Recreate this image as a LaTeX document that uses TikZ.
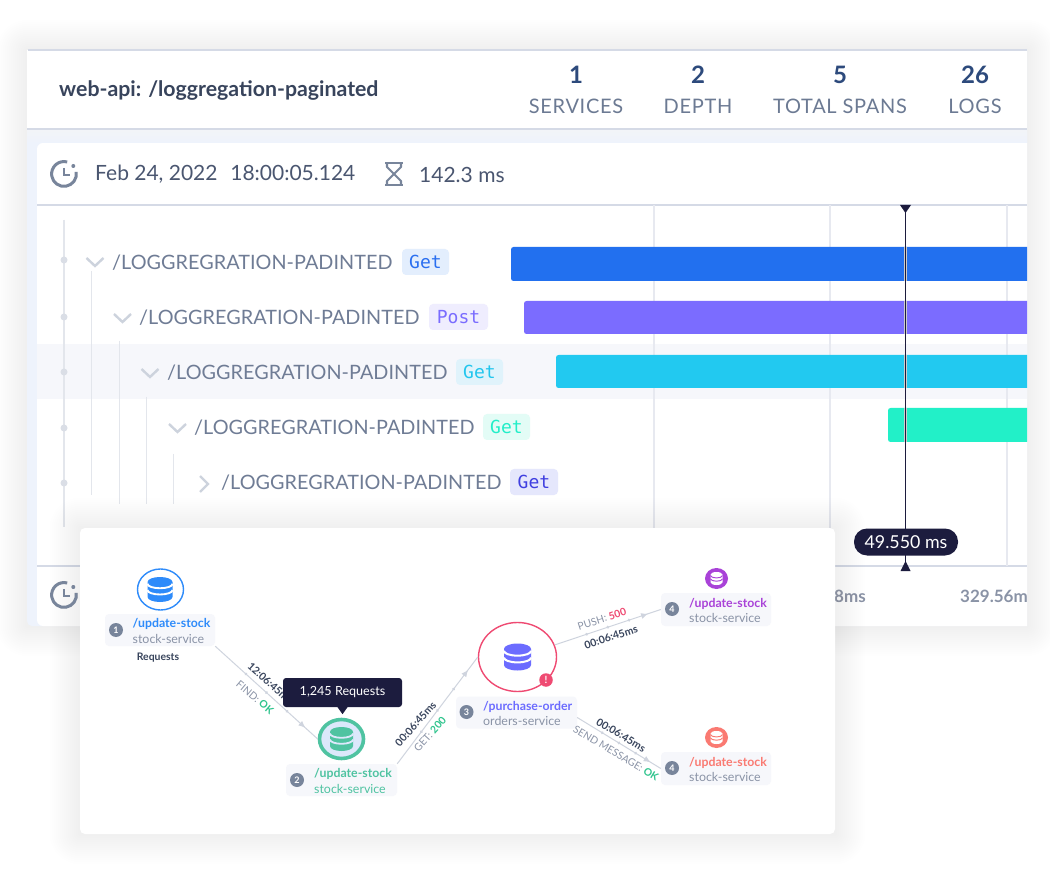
\documentclass[tikz,border=0pt]{standalone}
\usepackage{fontspec}
\setmainfont{Lato}
\newfontfamily\monof{DejaVu Sans Mono}
\usetikzlibrary{shapes.geometric,arrows.meta,decorations.markings}
\definecolor{ink}{HTML}{1C1C3E}
\definecolor{titlec}{HTML}{38445C}
\definecolor{datec}{HTML}{4A5670}
\definecolor{numc}{HTML}{2D4A7C}
\definecolor{statc}{HTML}{6C7A93}
\definecolor{rowc}{HTML}{6F7C95}
\definecolor{linec}{HTML}{D5DAE6}
\definecolor{gridc}{HTML}{E7E9F0}
\definecolor{treec}{HTML}{E3E6EC}
\definecolor{dotc}{HTML}{DADEE6}
\definecolor{chevc}{HTML}{CDD3DD}
\definecolor{edgec}{HTML}{CFD4DE}
\definecolor{iconc}{HTML}{78859B}
\definecolor{paleblue}{HTML}{EEF3FC}
\definecolor{boxc}{HTML}{F6F7FB}
\definecolor{svc}{HTML}{8A93A6}
\definecolor{blueA}{HTML}{2E8BFA}
\definecolor{tealA}{HTML}{4FC3A1}
\definecolor{violetA}{HTML}{6C6CFF}
\definecolor{purpA}{HTML}{A942D8}
\definecolor{salmA}{HTML}{FA7A72}
\definecolor{pinkA}{HTML}{EF4A72}
\definecolor{okc}{HTML}{2FC48D}
\definecolor{shadowc}{HTML}{8A8F9E}
\definecolor{palec}{HTML}{DCE8FB}
\definecolor{barA}{HTML}{2270EF}
\definecolor{barB}{HTML}{7B6CFF}
\definecolor{barC}{HTML}{22C9F0}
\definecolor{barD}{HTML}{22F0C8}
\newcommand\fsz[1]{\fontsize{#1}{#1}\selectfont}
\newcommand\dbicon[5]{% x y halfw halfh colour
  \begin{scope}[shift={(#1,#2)}]
    \fill[#5] (-#3,-#4*0.6) arc[start angle=180,end angle=360,x radius=#3,y radius=#4*0.4]
      -- (#3,#4*0.6) arc[start angle=0,end angle=180,x radius=#3,y radius=#4*0.4] -- cycle;
  \end{scope}}
\newcommand\dbgaps[5]{% x y halfw halfh gap colour
  \begin{scope}[shift={(#1,#2)}]
    \draw[#5,line width=#4*0.15] (-#3,-#4*0.45) arc[start angle=180,end angle=0,x radius=#3,y radius=#4*0.35];
    \draw[#5,line width=#4*0.15] (-#3,#4*0.05) arc[start angle=180,end angle=0,x radius=#3,y radius=#4*0.35];
  \end{scope}}
\newcommand\softshadow[6]{% x1 y1 x2 y2 spread opacity
  \foreach \s in {2,4,...,#5}{
    \fill[shadowc,opacity=#6,rounded corners=\s pt] (#1-\s,#2-\s) rectangle (#3+\s,#4+\s);}}
\newcommand\clockicon[2]{%
  \begin{scope}[shift={(#1,#2)}]
    \draw[iconc,line width=3pt] (12.2,-2.2) arc[start angle=-10,end angle=285,radius=12.4];
    \fill[iconc] (9.3,-8) circle[radius=2];
    \draw[iconc,line width=2.8pt] (0,-6) -- (0,1) -- (6,1);
  \end{scope}}
\tikzset{
  x=1pt,y=-1pt,
  dot/.style={circle,fill=dotc,minimum size=7pt,inner sep=0pt},
  treeline/.style={draw=treec,line width=1pt},
  chevron/.style={draw=chevc,line width=2.4pt},
  gridline/.style={draw=gridc,line width=1.4pt},
  rowtext/.style={text=rowc,anchor=west,inner sep=0pt,font=\fsz{19.8}\addfontfeature{LetterSpace=0.2}},
  tagbox/.style={rounded corners=4pt,minimum height=26pt,inner sep=0pt,font=\monof\fsz{18}},
  stattop/.style={text=numc,font=\fsz{24}\bfseries,inner sep=0pt},
  statlab/.style={text=statc,font=\fsz{20}\addfontfeature{LetterSpace=3.5},inner sep=0pt},
  labelbox/.style={fill=boxc,rounded corners=4pt,minimum height=32pt,inner sep=0pt},
  numbadge/.style={circle,fill=iconc,minimum size=14pt,inner sep=0pt,text=white,font=\fsz{9}\bfseries},
  opname/.style={anchor=west,inner sep=0pt,font=\fsz{12.3}\bfseries},
  svcname/.style={anchor=west,inner sep=0pt,text=svc,font=\fsz{12.4}},
  edgetime/.style={inner sep=0pt,text=titlec,font=\fsz{10.5}\bfseries},
  edgeverb/.style={inner sep=0pt,text=svc,font=\fsz{10.3}},
  flowedge/.style={draw=edgec,line width=1pt,postaction={decorate},decoration={markings,
    mark=at position 0.3 with {\fill[edgec] circle[radius=1.6];},
    mark=at position 0.5 with {\fill[edgec] circle[radius=1.6];},
    mark=at position 0.7 with {\fill[edgec] circle[radius=1.6];},
    mark=at position 0.88 with {\arrow{Latex[length=7pt,width=6pt]}}}},
}
\begin{document}
\begin{tikzpicture}
\useasboundingbox (0,0) rectangle (1050,890);
\fill[white] (0,0) rectangle (1050,890);
% main panel shadow
\softshadow{27}{50}{1027}{626}{30}{0.003}
% main panel
\fill[paleblue] (1027,50) [rounded corners=5pt] -- (27,50) -- (27,626) [sharp corners] -- (1027,626) -- cycle;
\fill[white] (1027,143) [rounded corners=6pt] -- (37,143) -- (37,626) [sharp corners] -- (1027,626) -- cycle;
\shade[top color=white!70!linec,bottom color=paleblue] (27,129) rectangle (1027,143);
\fill[white] (27,50) rectangle (1027,129);
\draw[linec,line width=2pt] (28,50.5) -- (1027,50.5);
\draw[linec,line width=1.2pt] (27,129) -- (1027,129);
% header
\node[anchor=west,inner sep=0pt,text=titlec,font=\fsz{21.3}\bfseries] (title) at (59,90.5) {web-api: /loggregation-paginated};
\node[stattop] (s1) at (576,75) {1};
\node[statlab] (l1) at (576,106.5) {SERVICES};
\node[stattop] (s2) at (698,75) {2};
\node[statlab] (l2) at (698,106.5) {DEPTH};
\node[stattop] (s3) at (840,75) {5};
\node[statlab] (l3) at (840,106.5) {TOTAL SPANS};
\node[stattop] (s4) at (975,75) {26};
\node[statlab] (l4) at (975,106.5) {LOGS};
% date row
\clockicon{64}{174}
\node[anchor=west,inner sep=0pt,text=datec,font=\fsz{21}] (date) at (95,174.5) {Feb 24, 2022\hspace{0.35em} 18:00:05.124};
\draw[iconc,line width=2.3pt,line join=round] (385,163) -- (403,163) (385,185) -- (403,185);
\draw[iconc,line width=2.1pt,line join=round] (387,163) -- (387,167) -- (401,181) -- (401,185) (401,163) -- (401,167) -- (387,181) -- (387,185);
\node[anchor=west,inner sep=0pt,text=datec,font=\fsz{21}] (dur) at (419,174.5) {142.3 ms};
\draw[linec,line width=1.2pt] (37,205) -- (1027,205);
\draw[linec,line width=1.2pt] (37,566) -- (1027,566);
% highlighted row
\fill[boxc] (37,344) rectangle (1027,399);
% grid
\draw[gridline] (654,205) -- (654,566);
\draw[gridline] (830,205) -- (830,566);
\draw[gridline] (1007,205) -- (1007,566);
% tree
\draw[treec,line width=1.6pt] (64,220) -- (64,527);
\foreach \yy in {260,317,372,428,483}{\node[dot] at (64,\yy) {};}
\draw[treeline] (91,271) -- (91,495);
\draw[treeline] (119,341) -- (119,504);
\draw[treeline] (146.5,397) -- (146.5,504);
\draw[treeline] (173.5,454) -- (173.5,504);
\draw[chevron] (86.5,258) -- (95,266) -- (103.5,258);
\draw[chevron] (114,314) -- (122.5,322) -- (131,314);
\draw[chevron] (141.5,369) -- (150,377) -- (158.5,369);
\draw[chevron] (169,424) -- (177.5,432) -- (186,424);
\draw[chevron] (200,476) -- (208,484) -- (200,492);
% rows
\node[rowtext] (r1) at (112,262.5) {/LOGGREGRATION-PADINTED};
\node[rowtext] (r2) at (139,317.5) {/LOGGREGRATION-PADINTED};
\node[rowtext] (r3) at (167,372.5) {/LOGGREGRATION-PADINTED};
\node[rowtext] (r4) at (194,427.5) {/LOGGREGRATION-PADINTED};
\node[rowtext] (r5) at (221,482.5) {/LOGGREGRATION-PADINTED};
\definecolor{tagA}{HTML}{2A6FF0}\definecolor{tagB}{HTML}{7A6CFF}\definecolor{tagC}{HTML}{22C6EE}\definecolor{tagD}{HTML}{22EEC8}\definecolor{tagE}{HTML}{3F3FE0}
\definecolor{tagfA}{HTML}{E3EEFD}\definecolor{tagfB}{HTML}{EFEDFE}\definecolor{tagfC}{HTML}{E0F3FB}\definecolor{tagfD}{HTML}{E3FCF6}\definecolor{tagfE}{HTML}{E5E7FC}
\node[tagbox,fill=tagfA,text=tagA,minimum width=47pt] (t1) at (425.5,262) {Get};
\node[tagbox,fill=tagfB,text=tagB,minimum width=59pt] (t2) at (458.5,317) {Post};
\node[tagbox,fill=tagfC,text=tagC,minimum width=47pt] (t3) at (479.5,372) {Get};
\node[tagbox,fill=tagfD,text=tagD,minimum width=47pt] (t4) at (506.5,427) {Get};
\node[tagbox,fill=tagfE,text=tagE,minimum width=48pt] (t5) at (534,482) {Get};
% bars
\fill[barA] (1027,247) [rounded corners=2.5pt] -- (511,247) -- (511,281) [sharp corners] -- (1027,281) -- cycle;
\fill[barB] (1027,301) [rounded corners=2.5pt] -- (524,301) -- (524,334) [sharp corners] -- (1027,334) -- cycle;
\fill[barC] (1027,355) [rounded corners=2.5pt] -- (556,355) -- (556,388) [sharp corners] -- (1027,388) -- cycle;
\fill[barD] (1027,408) [rounded corners=2.5pt] -- (888,408) -- (888,442) [sharp corners] -- (1027,442) -- cycle;
% time marker
\coordinate (mtop) at (905.5,205);
\coordinate (mbot) at (905.5,571);
\foreach \ya/\yb in {247/281,301/334,355/388,408/442}{\draw[white!60!gray,line width=3.4pt] (905.5,\ya) -- (905.5,\yb);}
\draw[ink,line width=1.7pt] (mtop) -- (mbot);
\fill[ink] (900,205) -- (911,205) -- (905.5,213) -- cycle;
\fill[ink] (900.5,571) -- (910.5,571) -- (905.5,561) -- cycle;
\node[fill=ink,text=white,rounded corners=13pt,minimum width=104pt,minimum height=27pt,inner sep=0pt,font=\fsz{17.8}] (pill) at (906,542) {49.550 ms};
% axis row
\clockicon{64}{595}
\begin{scope}
\clip (37,570) rectangle (1027,626);
\node[anchor=east,inner sep=0pt,text=svc,font=\fsz{17}\bfseries] (ax1) at (866,596) {8ms};
\node[anchor=west,inner sep=0pt,text=svc,font=\fsz{17}\bfseries] (ax2) at (960,596) {329.56ms};
\end{scope}
% lower card
\softshadow{80}{528}{835}{834}{30}{0.006}
\fill[white,rounded corners=5pt] (80,528) rectangle (835,834);
% label boxes
\node[labelbox,minimum width=110pt] (n1) at (160,630) {};
\node[labelbox,minimum width=111pt] (n2) at (341.5,780) {};
\node[labelbox,minimum width=121pt] (n3) at (516.5,712.5) {};
\node[labelbox,minimum width=110pt,minimum height=33pt] (n4a) at (716,609.5) {};
\node[labelbox,minimum width=110pt,minimum height=33pt] (n4b) at (716,768.5) {};
\node[numbadge] (b1) at (116,630) {1};
\node[numbadge] (b2) at (297,780) {2};
\node[numbadge] (b3) at (466.5,712) {3};
\node[numbadge] (b4a) at (672,609) {4};
\node[numbadge] (b4b) at (672,768) {4};
\node[opname,text=blueA] (o1) at (132.5,624) {/update-stock};
\node[svcname] (v1) at (132.5,638.5) {stock-service};
\node[opname,text=tealA] (o2) at (314,774) {/update-stock};
\node[svcname,text=tealA] (v2) at (314,788.5) {stock-service};
\node[opname,text=violetA] (o3) at (483,706.5) {/purchase-order};
\node[svcname] (v3) at (483,721) {orders-service};
\node[opname,text=purpA] (o4) at (689,603.5) {/update-stock};
\node[svcname] (v4) at (689,618) {stock-service};
\node[opname,text=salmA] (o5) at (689,762.5) {/update-stock};
\node[svcname] (v5) at (689,777) {stock-service};
\node[inner sep=0pt,text=titlec,font=\fsz{10.4}\bfseries] (req) at (158,658) {Requests};
% circles
\node[ellipse,draw=blueA,line width=1.4pt,minimum width=46pt,minimum height=41pt,inner sep=0pt] (c1) at (160.5,589.5) {};
\node[ellipse,draw=tealA,fill=palec,line width=3.6pt,minimum width=44pt,minimum height=39pt,inner sep=0pt] (c2) at (341.5,739) {};
\node[ellipse,draw=pinkA,line width=1.4pt,minimum width=78pt,minimum height=69pt,inner sep=0pt] (c3) at (517.5,657) {};
\node[ellipse,fill=purpA,minimum width=23pt,minimum height=21pt,inner sep=0pt] (c4a) at (716.5,578.5) {};
\node[ellipse,fill=salmA,minimum width=23pt,minimum height=21pt,inner sep=0pt] (c4b) at (716.5,737.5) {};
\dbicon{160}{589.5}{12.5}{12.5}{blueA}\dbgaps{160}{589.5}{12.5}{12.5}{white}
\dbicon{341.5}{739}{11.5}{12}{tealA}\dbgaps{341.5}{739}{11.5}{12}{palec}
\dbicon{517.5}{657}{13.5}{13.5}{violetA}\dbgaps{517.5}{657}{13.5}{13.5}{white}
\dbicon{716.5}{578.5}{6}{6.5}{white}\dbgaps{716.5}{578.5}{6}{6.5}{purpA}
\dbicon{716.5}{737.5}{6}{6.5}{white}\dbgaps{716.5}{737.5}{6}{6.5}{salmA}
\node[circle,fill=pinkA,minimum size=13.5pt,inner sep=0pt,text=white,font=\fsz{10}\bfseries] (alert) at (546,680) {!};
% connectors
\path[flowedge] (n1.south east) -- (c2.west);
\path[flowedge] (n2.north east) -- (c3.west);
\path[flowedge] (c3.18) -- (n4a.west);
\path[flowedge] ([yshift=-5pt]n3.east) -- (n4b.west);
% edge labels
\node[edgetime,rotate=-42] (e1t) at (270,683) {12:06:45ms};
\node[edgeverb,rotate=-40] (e1v) at (255,697.5) {FIND: \textcolor{okc}{\bfseries OK}};
\node[edgetime,rotate=48] (e2t) at (415.5,724) {00:06:45ms};
\node[edgeverb,rotate=48] (e2v) at (430,734) {GET: \textcolor{okc}{\bfseries 200}};
\node[edgeverb,rotate=18] (e3v) at (602,619) {PUSH: \textcolor{pinkA}{\bfseries 500}};
\node[edgetime,rotate=18] (e3t) at (611,637) {00:06:45ms};
\node[edgetime,rotate=-31] (e4t) at (621,735) {00:06:45ms};
\node[edgeverb,rotate=-31] (e4v) at (616,753) {SEND MESSAGE: \textcolor{okc}{\bfseries OK}};
% tooltip
\node[fill=ink,text=white,rounded corners=3pt,minimum width=119pt,minimum height=29pt,inner sep=0pt,font=\fsz{12.6}] (tip) at (342.5,692.5) {1,245 Requests};
\fill[ink] ([xshift=-5pt]tip.south) -- ([xshift=5pt]tip.south) -- ([yshift=-7pt]tip.south) -- cycle;
\end{tikzpicture}
\end{document}
